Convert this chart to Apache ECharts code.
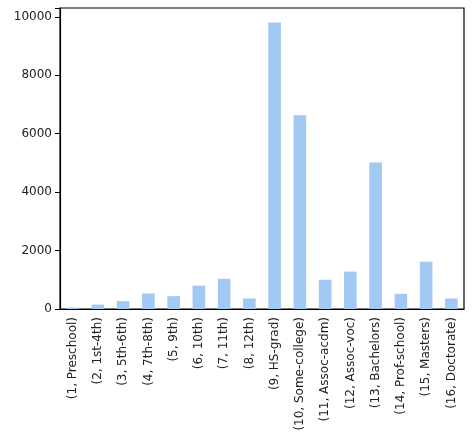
<!DOCTYPE html>
<html><head><meta charset="utf-8">
<script src="https://cdn.jsdelivr.net/npm/echarts@6/dist/echarts.min.js"></script>
<style>html,body{margin:0;padding:0;background:#fff}#c{width:474px;height:442px}</style>
</head><body><div id="c"></div>
<script>
const categories = ["(1, Preschool)","(2, 1st-4th)","(3, 5th-6th)","(4, 7th-8th)","(5, 9th)","(6, 10th)","(7, 11th)","(8, 12th)","(9, HS-grad)","(10, Some-college)","(11, Assoc-acdm)","(12, Assoc-voc)","(13, Bachelors)","(14, Prof-school)","(15, Masters)","(16, Doctorate)"];
const counts = [50,150,270,530,440,800,1030,360,9800,6630,1000,1280,5010,520,1620,360];
const chart = echarts.init(document.getElementById('c'));
chart.setOption({
  animation:false,
  grid:{left:60,right:10,top:8,bottom:133,show:true,borderColor:'#000',borderWidth:1.2,backgroundColor:'transparent'},
  xAxis:{type:'category',data:categories,
    axisLine:{lineStyle:{color:'#000',width:1.2}},
    axisTick:{alignWithLabel:true,length:5,lineStyle:{color:'#000'}},
    axisLabel:{rotate:90,interval:0,color:'#222',fontSize:12,fontFamily:'DejaVu Sans',margin:8}},
  yAxis:{type:'value',min:0,max:10300,interval:2000,
    axisLine:{show:true,lineStyle:{color:'#000',width:1.2}},
    axisTick:{show:true,length:5,lineStyle:{color:'#000'}},
    splitLine:{show:false},
    axisLabel:{color:'#222',fontSize:12,fontFamily:'DejaVu Sans',formatter:v=>v>10000?'':v}},
  series:[{type:'bar',data:counts,barWidth:'50%',itemStyle:{color:'#a1c9f4'}}]
});
</script></body></html>
